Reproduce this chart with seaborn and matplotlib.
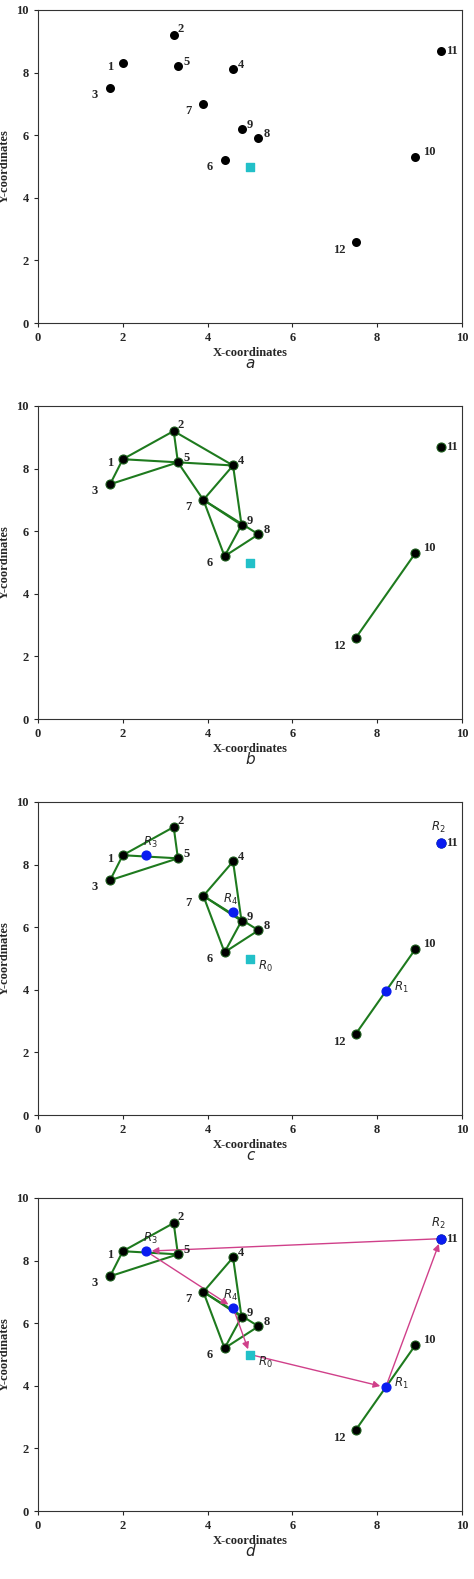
import matplotlib
matplotlib.use("Agg")
import matplotlib.pyplot as plt
import seaborn as sns
import pandas as pd

sns.set_style("white")
plt.rcParams['font.family'] = ['Liberation Serif', 'DejaVu Serif']

node_ids = [1, 2, 3, 4, 5, 6, 7, 8, 9, 10, 11, 12]
node_x = [2.0, 3.2, 1.7, 4.6, 3.3, 4.4, 3.9, 5.2, 4.8, 8.9, 9.5, 7.5]
node_y = [8.3, 9.2, 7.5, 8.1, 8.2, 5.2, 7.0, 5.9, 6.2, 5.3, 8.7, 2.6]
depot = (5.0, 5.0)
edges_b = [(1, 2), (1, 3), (1, 5), (2, 5), (2, 4), (3, 5), (5, 4), (5, 7), (4, 7), (4, 9),
           (7, 9), (7, 8), (6, 7), (6, 9), (6, 8), (10, 12)]
edges_c = [(1, 2), (1, 3), (1, 5), (2, 5), (3, 5), (7, 4), (4, 9), (7, 9), (7, 8), (6, 7),
           (6, 9), (6, 8), (10, 12)]
relay_names = ['R_1', 'R_2', 'R_3', 'R_4']
relay_x = [8.2, 9.5, 2.55, 4.6]
relay_y = [3.95, 8.7, 8.3, 6.5]
route = ['R_0', 'R_1', 'R_2', 'R_3', 'R_4', 'R_0']

label_off = {1: (-9, -3), 2: (5, 4), 3: (-11, -5), 4: (6, 3), 5: (6, 3), 6: (-11, -5),
             7: (-11, -5), 8: (6, 3), 9: (6, 3), 10: (10, 4), 11: (8, 0), 12: (-12, -6)}

df = pd.DataFrame({'id': node_ids, 'x': node_x, 'y': node_y})
pos = {i: (x, y) for i, x, y in zip(node_ids, node_x, node_y)}
rpos = {n: (x, y) for n, x, y in zip(relay_names, relay_x, relay_y)}
rpos['R_0'] = depot

fig = plt.figure(figsize=(4.74, 15.79), dpi=100)
W, H = 474, 1579
letters = ['a', 'b', 'c', 'd']
for k in range(4):
    top = 10 + k * 396
    ax = fig.add_axes([38 / W, 1 - (top + 313) / H, 424 / W, 313 / H])
    edges = edges_b if k == 1 else (edges_c if k >= 2 else [])
    for a, b in edges:
        ax.plot([pos[a][0], pos[b][0]], [pos[a][1], pos[b][1]], color='#1e7a1e', lw=1.5, zorder=2)
    if k == 3:
        for s, t in zip(route[:-1], route[1:]):
            ax.annotate('', xy=rpos[t], xytext=rpos[s],
                        arrowprops=dict(arrowstyle='-|>', color='#d0408a', lw=1.0,
                                        mutation_scale=10, shrinkA=0, shrinkB=4), zorder=3)
    sns.scatterplot(data=df, x='x', y='y', color='black', edgecolor='#1a5a1a', s=42,
                    linewidth=0.8 if k else 0, ax=ax, zorder=4)
    ax.scatter([depot[0]], [depot[1]], marker='s', color='#22c0c8', s=40, zorder=5)
    for i, x, y in zip(node_ids, node_x, node_y):
        ax.annotate(str(i), (x, y), xytext=label_off[i], textcoords='offset points',
                    fontsize=9, fontweight='bold', ha='center', va='center')
    if k >= 2:
        ax.scatter(relay_x, relay_y, color='#0a1cf0', s=40, zorder=6)
        roff = {'R_1': (11, 3), 'R_2': (-2, 11), 'R_3': (3, 9), 'R_4': (-2, 9)}
        for n, x, y in zip(relay_names, relay_x, relay_y):
            ax.annotate('$%s$' % n, (x, y), xytext=roff[n], textcoords='offset points',
                        fontsize=8.5, ha='center', va='center', family='DejaVu Sans')
        ax.annotate('$R_0$', depot, xytext=(11, -6), textcoords='offset points',
                    fontsize=8.5, ha='center', va='center', family='DejaVu Sans')
    ax.set_xlim(0, 10)
    ax.set_ylim(0, 10)
    ax.set_xticks([0, 2, 4, 6, 8, 10])
    ax.set_yticks([0, 2, 4, 6, 8, 10])
    ax.tick_params(labelsize=9, length=3, direction='out', bottom=True, left=True)
    for lab in ax.get_xticklabels() + ax.get_yticklabels():
        lab.set_fontweight('bold')
    ax.set_xlabel('X-coordinates', fontsize=9, fontweight='bold', labelpad=2)
    ax.set_ylabel('Y-coordinates', fontsize=9, fontweight='bold', labelpad=4)
    for sp in ax.spines.values():
        sp.set_color('#333333')
        sp.set_linewidth(0.8)
    fig.text(250 / W, 1 - (top + 354) / H, letters[k], fontsize=11, style='italic',
             ha='center', va='center', family='DejaVu Sans')

fig.savefig('out.png', dpi=100)
